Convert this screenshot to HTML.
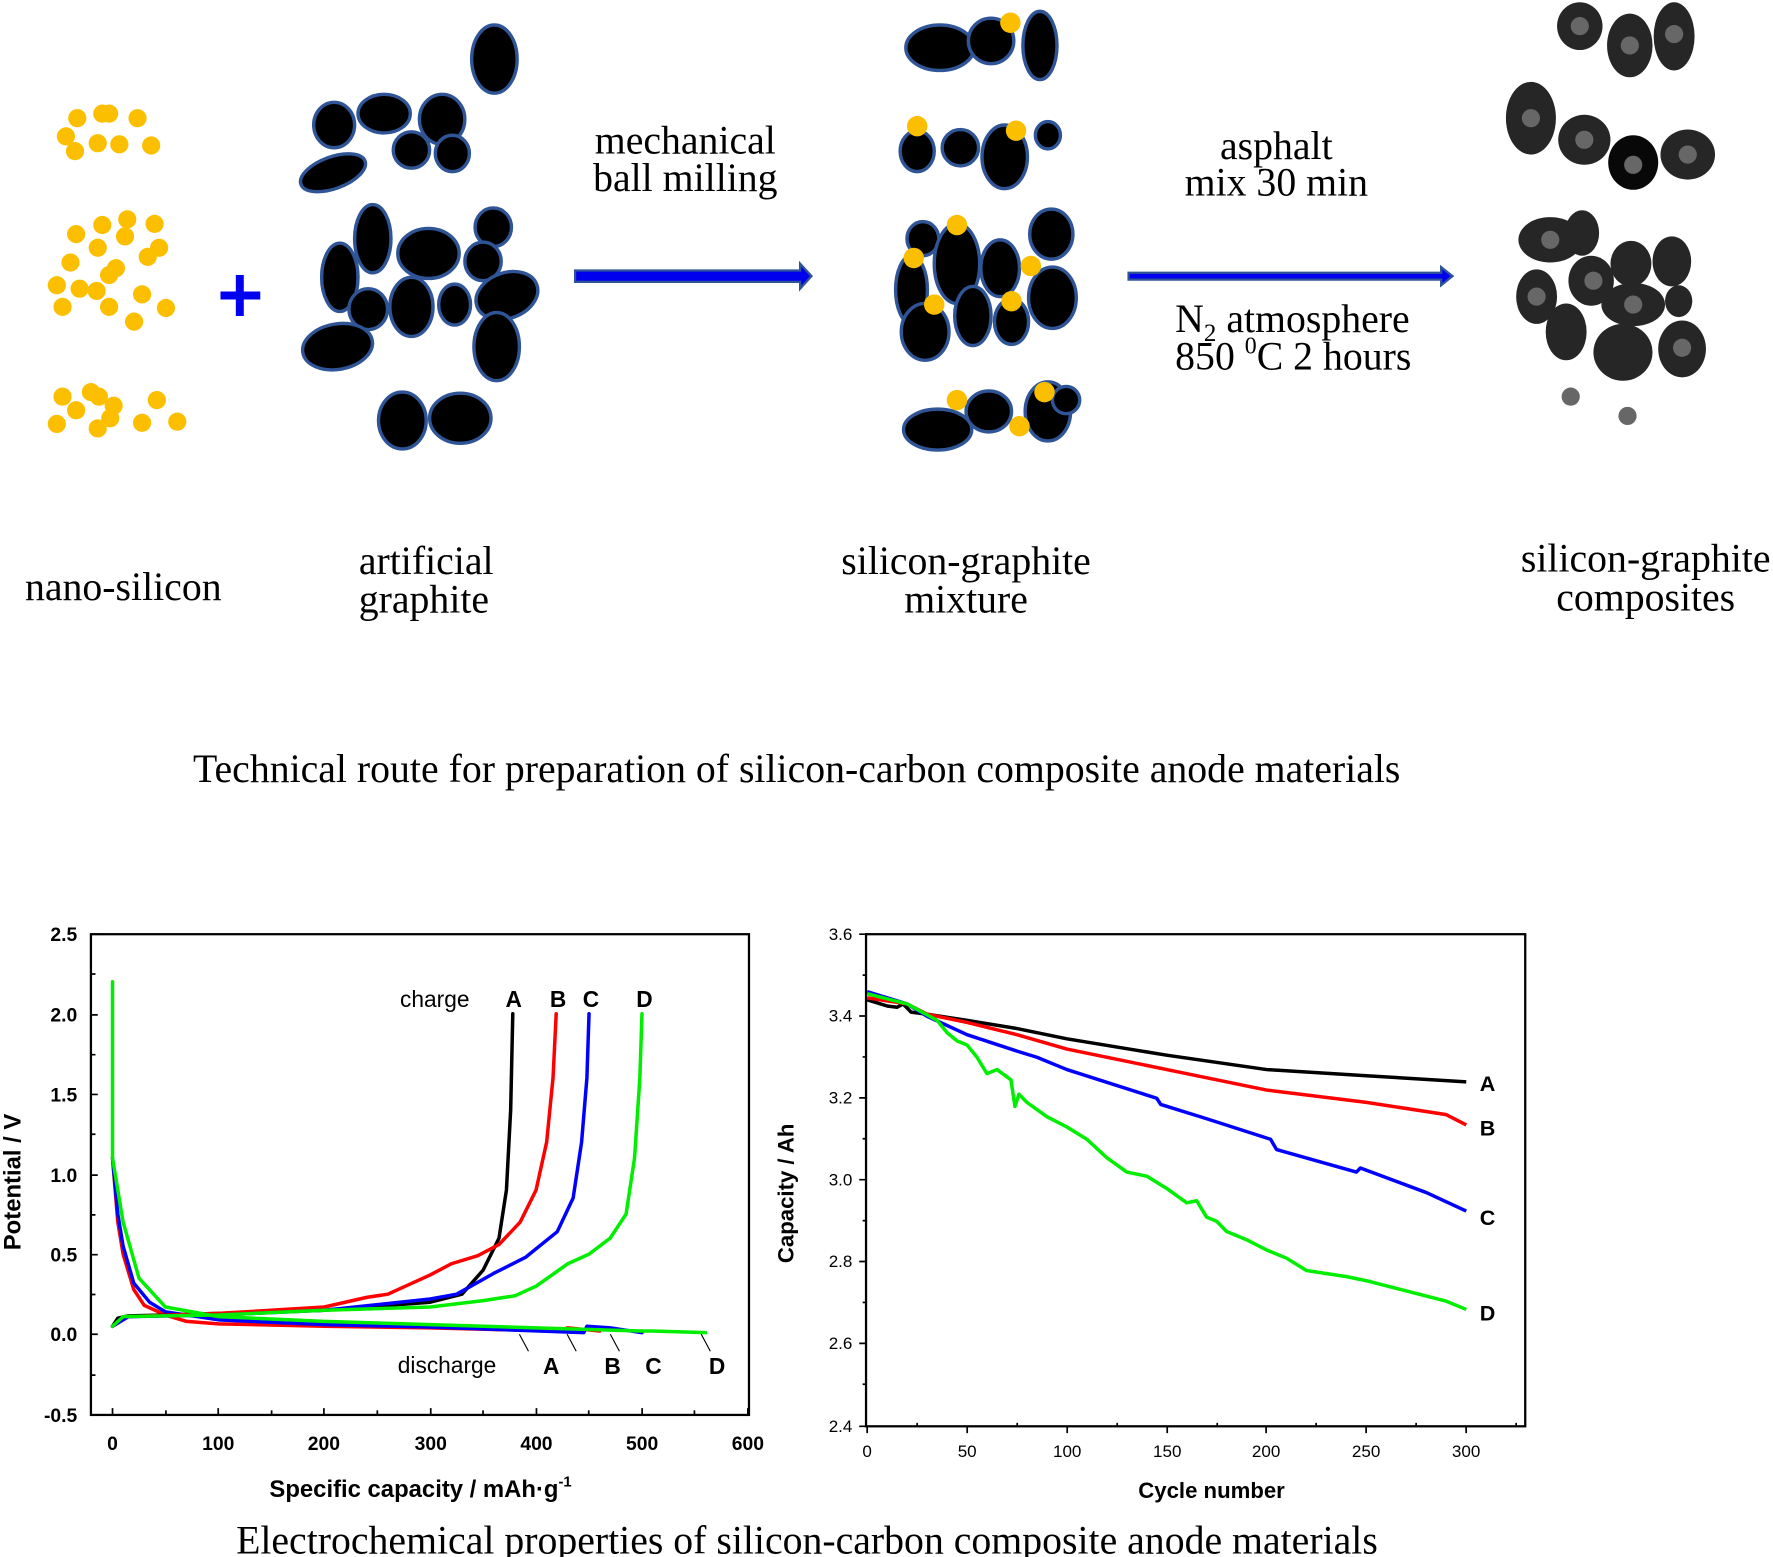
<!DOCTYPE html>
<html><head><meta charset="utf-8"><style>
html,body{margin:0;padding:0;background:#fff}
svg{display:block}
.t{font-family:"Liberation Serif",serif;font-size:35px;fill:#000}
.a{font-family:"Liberation Sans",sans-serif;fill:#000}
</style></head><body>
<svg width="1773" height="1557" viewBox="0 0 1560 1370" xmlns="http://www.w3.org/2000/svg" preserveAspectRatio="none">
<rect width="1560" height="1370" fill="#fff"/>
<g fill="#fcbf00">
<circle cx="68" cy="104" r="8"/><circle cx="90" cy="100" r="8"/><circle cx="96" cy="100" r="8"/><circle cx="121" cy="104" r="8"/>
<circle cx="58" cy="120" r="8"/><circle cx="66" cy="133" r="8"/><circle cx="86" cy="126" r="8"/><circle cx="105" cy="127" r="8"/><circle cx="133" cy="128" r="8"/>
<circle cx="67" cy="206" r="8"/><circle cx="90" cy="198" r="8"/><circle cx="112" cy="193" r="8"/><circle cx="136" cy="197" r="8"/><circle cx="110" cy="208" r="8"/>
<circle cx="86" cy="218" r="8"/><circle cx="140" cy="218" r="8"/><circle cx="62" cy="231" r="8"/><circle cx="130" cy="226" r="8"/><circle cx="102" cy="236" r="8"/><circle cx="96" cy="242" r="8"/>
<circle cx="50" cy="251" r="8"/><circle cx="70" cy="254" r="8"/><circle cx="85" cy="256" r="8"/><circle cx="125" cy="259" r="8"/><circle cx="55" cy="270" r="8"/><circle cx="96" cy="270" r="8"/><circle cx="146" cy="271" r="8"/><circle cx="118" cy="283" r="8"/>
<circle cx="55" cy="349" r="8"/><circle cx="80" cy="345" r="8"/><circle cx="87" cy="349" r="8"/><circle cx="138" cy="352" r="8"/><circle cx="67" cy="361" r="8"/><circle cx="100" cy="357" r="8"/><circle cx="97" cy="368" r="8"/>
<circle cx="50" cy="373" r="8"/><circle cx="86" cy="377" r="8"/><circle cx="125" cy="372" r="8"/><circle cx="156" cy="371" r="8"/>
</g>
<path d="M211 242 V278 M194 260 H229" stroke="#0000f0" stroke-width="7"/>
<g fill="#000" stroke="#2f5597" stroke-width="3">
<ellipse cx="435" cy="52" rx="20" ry="30"/>
<ellipse cx="294" cy="110" rx="18" ry="20"/><ellipse cx="338" cy="100" rx="23" ry="17"/><ellipse cx="389" cy="105" rx="20" ry="22"/>
<ellipse cx="362" cy="132" rx="16" ry="16"/><ellipse cx="398" cy="135" rx="15" ry="16"/><ellipse cx="293" cy="152" rx="30" ry="14" transform="rotate(-20 293 152)"/>
<ellipse cx="328" cy="210" rx="16" ry="30"/><ellipse cx="299" cy="244" rx="16" ry="30"/><ellipse cx="377" cy="223" rx="27" ry="22"/><ellipse cx="434" cy="200" rx="16" ry="17"/>
<ellipse cx="425" cy="230" rx="16" ry="17"/><ellipse cx="324" cy="272" rx="17" ry="18"/><ellipse cx="362" cy="270" rx="19" ry="26"/><ellipse cx="400" cy="268" rx="14" ry="18"/>
<ellipse cx="446" cy="260" rx="28" ry="20" transform="rotate(-20 446 260)"/><ellipse cx="437" cy="305" rx="20" ry="30"/><ellipse cx="297" cy="305" rx="31" ry="20" transform="rotate(-10 297 305)"/>
<ellipse cx="354" cy="370" rx="21" ry="25"/><ellipse cx="405" cy="368" rx="27" ry="22"/>
<ellipse cx="827" cy="42" rx="30" ry="20"/><ellipse cx="872" cy="36" rx="20" ry="20"/><ellipse cx="915" cy="40" rx="15" ry="30"/>
<ellipse cx="807" cy="133" rx="15" ry="18"/><ellipse cx="845" cy="130" rx="16" ry="16"/><ellipse cx="884" cy="138" rx="20" ry="28"/><ellipse cx="922" cy="119" rx="11" ry="12"/>
<ellipse cx="812" cy="210" rx="14" ry="15"/><ellipse cx="842" cy="232" rx="20" ry="35"/><ellipse cx="802" cy="255" rx="14" ry="30"/><ellipse cx="880" cy="236" rx="17" ry="25"/>
<ellipse cx="925" cy="206" rx="19" ry="22"/><ellipse cx="926" cy="262" rx="21" ry="27"/><ellipse cx="814" cy="292" rx="21" ry="25"/><ellipse cx="856" cy="278" rx="16" ry="26"/><ellipse cx="890" cy="283" rx="15" ry="20"/>
<ellipse cx="825" cy="378" rx="30" ry="18"/><ellipse cx="870" cy="362" rx="20" ry="18"/><ellipse cx="922" cy="362" rx="20" ry="26"/><ellipse cx="938" cy="352" rx="12" ry="12"/>
</g>
<g fill="#fcbf00">
<circle cx="889" cy="20" r="9"/><circle cx="807" cy="111" r="9"/><circle cx="894" cy="115" r="9"/><circle cx="842" cy="198" r="9"/>
<circle cx="804" cy="227" r="9"/><circle cx="907" cy="234" r="9"/><circle cx="822" cy="268" r="9"/><circle cx="890" cy="265" r="9"/>
<circle cx="842" cy="352" r="9"/><circle cx="919" cy="345" r="9"/><circle cx="897" cy="375" r="9"/>
</g>
<g fill="#262626">
<ellipse cx="1390" cy="23" rx="20" ry="21"/><ellipse cx="1434" cy="40" rx="20" ry="28"/><ellipse cx="1473" cy="32" rx="18" ry="30"/>
<ellipse cx="1347" cy="104" rx="22" ry="32"/><ellipse cx="1394" cy="123" rx="23" ry="22"/><ellipse cx="1437" cy="143" rx="22" ry="24" fill="#080808"/><ellipse cx="1485" cy="136" rx="24" ry="22"/>
<ellipse cx="1364" cy="211" rx="28" ry="20"/><ellipse cx="1392" cy="205" rx="15" ry="20"/><ellipse cx="1435" cy="232" rx="18" ry="20"/><ellipse cx="1471" cy="230" rx="17" ry="22"/>
<ellipse cx="1352" cy="261" rx="18" ry="24"/><ellipse cx="1400" cy="247" rx="20" ry="22"/><ellipse cx="1437" cy="268" rx="28" ry="19"/><ellipse cx="1477" cy="265" rx="12" ry="14"/>
<ellipse cx="1378" cy="292" rx="18" ry="25"/><ellipse cx="1428" cy="310" rx="26" ry="25"/><ellipse cx="1480" cy="307" rx="21" ry="25"/>
</g>
<g fill="#676767">
<circle cx="1390" cy="23" r="8"/><circle cx="1434" cy="40" r="8"/><circle cx="1473" cy="30" r="8"/><circle cx="1347" cy="104" r="8"/><circle cx="1394" cy="123" r="8"/>
<circle cx="1437" cy="145" r="8"/><circle cx="1485" cy="136" r="8"/><circle cx="1364" cy="211" r="8"/><circle cx="1402" cy="247" r="8"/><circle cx="1352" cy="261" r="8"/>
<circle cx="1437" cy="268" r="8"/><circle cx="1480" cy="306" r="8"/><circle cx="1382" cy="349" r="8"/><circle cx="1432" cy="366" r="8"/>
</g>
<path d="M506 238 H704 V232 L714 243 L704 254 V248 H506 Z" fill="#0000ee" stroke="#2f5597" stroke-width="2"/>
<path d="M993 240 H1268 V235 L1278 243 L1268 251 V246 H993 Z" fill="#0000ee" stroke="#2f5597" stroke-width="2"/>
<text class="t" x="603" y="135" text-anchor="middle">mechanical</text>
<text class="t" x="603" y="168" text-anchor="middle">ball milling</text>
<text class="t" x="1123" y="140" text-anchor="middle">asphalt</text>
<text class="t" x="1123" y="172" text-anchor="middle">mix 30 min</text>
<text class="t" x="1034" y="292">N<tspan font-size="22" dy="8">2</tspan><tspan dy="-8"> atmosphere</tspan></text>
<text class="t" x="1034" y="325">850 <tspan font-size="21" dy="-14">0</tspan><tspan dy="14">C 2 hours</tspan></text>
<text class="t" x="22" y="528">nano-silicon</text>
<text class="t" x="375" y="505" text-anchor="middle">artificial</text>
<text class="t" x="373" y="539" text-anchor="middle">graphite</text>
<text class="t" x="850" y="505" text-anchor="middle">silicon-graphite</text>
<text class="t" x="850" y="539" text-anchor="middle">mixture</text>
<text class="t" x="1448" y="503" text-anchor="middle">silicon-graphite</text>
<text class="t" x="1448" y="537" text-anchor="middle">composites</text>
<text class="t" x="701" y="688" text-anchor="middle">Technical route for preparation of silicon-carbon composite anode materials</text>
<text class="t" x="710" y="1367" text-anchor="middle">Electrochemical properties of silicon-carbon composite anode materials</text>

<rect x="80" y="822" width="579" height="423" fill="none" stroke="#000" stroke-width="2"/>
<g stroke="#000" stroke-width="1.5">
<path d="M80 822h6M80 857h4M80 893h6M80 928h4M80 963h6M80 998h4M80 1034h6M80 1069h4M80 1104h6M80 1139h4M80 1174h6M80 1210h4M80 1245h6"/>
<path d="M99 1245v-6M146 1245v-4M192 1245v-6M239 1245v-4M285 1245v-6M332 1245v-4M379 1245v-6M425 1245v-4M472 1245v-6M518 1245v-4M565 1245v-6M611 1245v-4M658 1245v-6"/>
</g>
<g class="a" font-size="17" font-weight="bold" text-anchor="end">
<text x="68" y="828">2.5</text><text x="68" y="899">2.0</text><text x="68" y="969">1.5</text><text x="68" y="1040">1.0</text>
<text x="68" y="1110">0.5</text><text x="68" y="1180">0.0</text><text x="68" y="1251">-0.5</text>
</g>
<g class="a" font-size="17" font-weight="bold" text-anchor="middle">
<text x="99" y="1276">0</text><text x="192" y="1276">100</text><text x="285" y="1276">200</text><text x="379" y="1276">300</text>
<text x="472" y="1276">400</text><text x="565" y="1276">500</text><text x="658" y="1276">600</text>
</g>
<text class="a" x="370" y="1317" font-size="21" font-weight="bold" text-anchor="middle">Specific capacity / mAh·g<tspan font-size="13" dy="-9">-1</tspan></text>
<text class="a" transform="translate(18 1040) rotate(-90)" font-size="21" font-weight="bold" text-anchor="middle">Potential / V</text>
<g transform="translate(99 1174) scale(0.9317 -141)" fill="none" stroke-width="3.5" stroke-linejoin="round" stroke-linecap="round">
<polyline vector-effect="non-scaling-stroke" stroke="#ff0000" points="0,1.1 5,0.7 10,0.5 20,0.28 30,0.18 50,0.12 70,0.08 100,0.065 200,0.05 300,0.04 420,0.02 430,0.04 460,0.02"/>
<polyline vector-effect="non-scaling-stroke" stroke="#0000ff" points="0,1.1 5,0.75 10,0.55 20,0.32 35,0.2 50,0.14 100,0.09 200,0.06 300,0.045 445,0.01 448,0.05 470,0.04 500,0.01"/>
<polyline vector-effect="non-scaling-stroke" stroke="#000" points="0,0.05 5,0.1 15,0.115 50,0.12 100,0.13 200,0.15 300,0.2 330,0.25 350,0.4 365,0.6 372,0.9 376,1.4 378,2.0"/>
<polyline vector-effect="non-scaling-stroke" stroke="#ff0000" points="0,0.05 15,0.11 100,0.13 200,0.17 240,0.23 260,0.25 300,0.37 320,0.44 345,0.49 365,0.56 385,0.7 400,0.9 410,1.2 416,1.6 419,2.0"/>
<polyline vector-effect="non-scaling-stroke" stroke="#0000ff" points="0,0.05 15,0.11 100,0.12 200,0.15 300,0.22 325,0.25 360,0.38 390,0.48 420,0.64 435,0.85 443,1.2 448,1.6 450,2.0"/>
<polyline vector-effect="non-scaling-stroke" stroke="#00ee00" points="0,0.05 10,0.11 100,0.12 200,0.15 300,0.17 350,0.21 380,0.24 400,0.3 430,0.44 450,0.5 470,0.6 485,0.75 493,1.1 498,1.6 500,2.0"/>
<polyline vector-effect="non-scaling-stroke" stroke="#00ee00" points="0,2.2 0,1.1 10,0.7 25,0.35 50,0.17 100,0.11 200,0.08 300,0.06 400,0.04 500,0.02 510,0.02 560,0.01"/>
</g>
<g stroke="#000" stroke-width="1"><path d="M457 1174l8 15M499 1174l8 15M537 1174l8 15M617 1174l8 15"/></g>
<g class="a" font-size="20">
<text x="352" y="886">charge</text><text x="350" y="1208">discharge</text>
</g>
<g class="a" font-size="20" font-weight="bold" text-anchor="middle">
<text x="452" y="886">A</text><text x="491" y="886">B</text><text x="520" y="886">C</text><text x="567" y="886">D</text>
<text x="485" y="1209">A</text><text x="539" y="1209">B</text><text x="575" y="1209">C</text><text x="631" y="1209">D</text>
</g>

<rect x="762" y="822" width="580" height="433" fill="none" stroke="#000" stroke-width="2"/>
<g stroke="#000" stroke-width="1.5">
<path d="M762 822h-6M762 858h-3M762 894h-6M762 930h-3M762 966h-6M762 1002h-3M762 1038h-6M762 1074h-3M762 1110h-6M762 1146h-3M762 1182h-6M762 1218h-3M762 1255h-6"/>
<path d="M763 1255v6M807 1255v-3M851 1255v6M895 1255v-3M939 1255v6M983 1255v-3M1027 1255v6M1071 1255v-3M1114 1255v6M1158 1255v-3M1202 1255v6M1246 1255v-3M1290 1255v6M1334 1255v-3"/>
</g>
<g class="a" font-size="15" text-anchor="end">
<text x="750" y="827">3.6</text><text x="750" y="899">3.4</text><text x="750" y="971">3.2</text><text x="750" y="1043">3.0</text>
<text x="750" y="1115">2.8</text><text x="750" y="1187">2.6</text><text x="750" y="1260">2.4</text>
</g>
<g class="a" font-size="15" text-anchor="middle">
<text x="763" y="1282">0</text><text x="851" y="1282">50</text><text x="939" y="1282">100</text><text x="1027" y="1282">150</text>
<text x="1114" y="1282">200</text><text x="1202" y="1282">250</text><text x="1290" y="1282">300</text>
</g>
<text class="a" x="1066" y="1318" font-size="19.5" font-weight="bold" text-anchor="middle">Cycle number</text>
<text class="a" transform="translate(698 1050) rotate(-90)" font-size="19.5" font-weight="bold" text-anchor="middle">Capacity / Ah</text>
<g transform="translate(763 1255) scale(1.757 -360.8) translate(0 -2.4)" fill="none" stroke-width="3.5" stroke-linejoin="round">
<polyline vector-effect="non-scaling-stroke" stroke="#000" points="0,3.44 10,3.425 15,3.422 18,3.43 22,3.41 30,3.405 50,3.39 75,3.37 100,3.345 150,3.305 200,3.27 250,3.255 300,3.24"/>
<polyline vector-effect="non-scaling-stroke" stroke="#ff0000" points="0,3.445 20,3.43 30,3.405 50,3.385 75,3.355 100,3.32 150,3.27 200,3.22 250,3.19 290,3.16 300,3.135"/>
<polyline vector-effect="non-scaling-stroke" stroke="#0000ff" points="0,3.46 20,3.43 30,3.4 50,3.355 75,3.315 85,3.3 100,3.27 145,3.2 147,3.185 170,3.15 202,3.1 205,3.075 245,3.02 247,3.03 280,2.97 300,2.925"/>
<polyline vector-effect="non-scaling-stroke" stroke="#00ee00" points="0,3.455 20,3.43 35,3.39 40,3.36 45,3.34 50,3.33 55,3.3 60,3.26 65,3.27 72,3.245 74,3.18 76,3.21 80,3.19 90,3.155 100,3.13 110,3.1 120,3.055 130,3.02 140,3.01 150,2.98 160,2.945 165,2.95 170,2.91 175,2.9 180,2.875 190,2.855 200,2.83 210,2.81 220,2.78 240,2.765 250,2.755 270,2.73 290,2.705 300,2.685"/>
</g>
<g class="a" font-size="19" font-weight="bold">
<text x="1302" y="960">A</text><text x="1302" y="999">B</text><text x="1302" y="1078">C</text><text x="1302" y="1162">D</text>
</g>
</svg>
</body></html>
